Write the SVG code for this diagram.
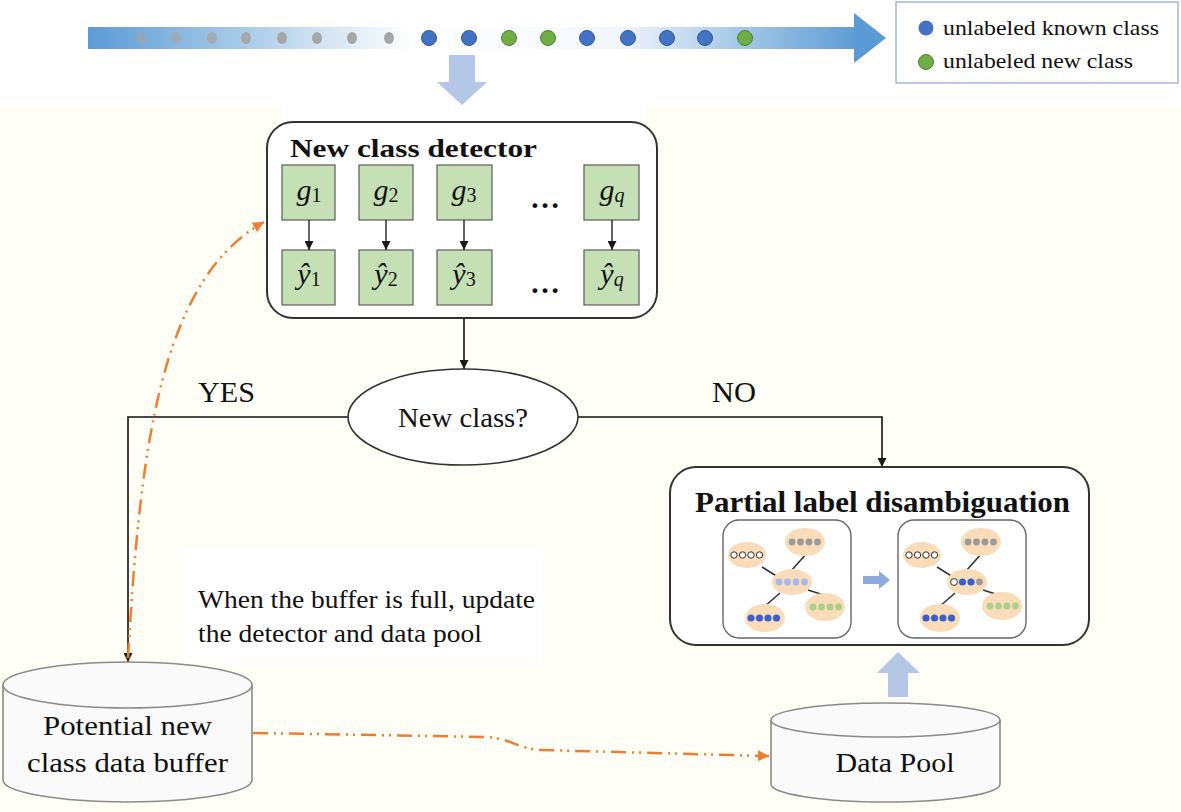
<svg xmlns="http://www.w3.org/2000/svg" width="1181" height="812" viewBox="0 0 1181 812" font-family="'Liberation Serif', 'Times New Roman', serif">
<defs>
  <linearGradient id="band" x1="88" y1="0" x2="860" y2="0" gradientUnits="userSpaceOnUse">
    <stop offset="0" stop-color="#5b9bd5"/>
    <stop offset="0.42" stop-color="#ffffff"/>
    <stop offset="0.68" stop-color="#f3f7fc"/>
    <stop offset="1" stop-color="#5b9bd5"/>
  </linearGradient>
  <marker id="ah" viewBox="0 0 10 10" refX="10" refY="5" markerWidth="9" markerHeight="9" markerUnits="userSpaceOnUse" orient="auto">
    <path d="M0,0 L10,5 L0,10 z" fill="#1a1a1a"/>
  </marker>
  <marker id="ao" viewBox="0 0 10 10" refX="10" refY="5" markerWidth="11" markerHeight="11" markerUnits="userSpaceOnUse" orient="auto">
    <path d="M0,0 L10,5 L0,10 z" fill="#ed7d31"/>
  </marker>
  <style>
    .t { font-family: "Liberation Serif", "Times New Roman", serif; fill: #111; }
    .b { font-weight: bold; }
    .box { fill: #ffffff; stroke: #333; stroke-width: 2; }
    .g { fill: #c5e0b4; stroke: #5a5a5a; stroke-width: 1.2; }
    .ln { fill: none; stroke: #111; stroke-width: 1.6; }
    .sl { fill: none; stroke: #111; stroke-width: 1.3; }
    .or { fill: none; stroke: #ed7d31; stroke-width: 2.5; stroke-dasharray: 15 6 2 5 2 6; }
    .cyl { fill: #fafafa; stroke: #8a8a8a; stroke-width: 1.6; }
    .pk { fill: #fbdcb8; }
    .ed { stroke: #333; stroke-width: 1.6; }
    .gd { fill: #a6a6a6; }
    .bd { fill: #4472c4; stroke: #2f5597; stroke-width: 1; }
    .nd { fill: #70ad47; stroke: #507e32; stroke-width: 1; }
    .hl { fill: #ffffff; stroke: #333; stroke-width: 1; }
    .lv { fill: #a9b8ec; }
    .dk { fill: #3a5fcd; }
    .lg { fill: #a9d18e; }
    .gy { fill: #9a9a9a; }
    .inner { fill: #ffffff; stroke: #666; stroke-width: 1.4; }
  </style>
</defs>

<!-- background -->
<rect x="0" y="0" width="1181" height="812" fill="#ffffff"/>
<rect x="0" y="105" width="1181" height="707" fill="#fefef6"/>
<rect x="283" y="100" width="362" height="22" fill="#ffffff"/>
<rect x="180" y="547" width="362" height="116" fill="#ffffff"/>

<!-- data stream -->
<g id="stream">
  <rect x="88" y="27" width="768" height="22" fill="url(#band)"/>
  <polygon points="854,13 886,38 854,63" fill="#5b9bd5"/>
  <g class="gd">
    <ellipse cx="141" cy="38" rx="5" ry="6" opacity="0.55"/>
    <ellipse cx="176" cy="38" rx="5" ry="6" opacity="0.7"/>
    <ellipse cx="212" cy="38" rx="5" ry="6" opacity="0.85"/>
    <ellipse cx="246" cy="38" rx="5" ry="6"/>
    <ellipse cx="282" cy="38" rx="5" ry="6"/>
    <ellipse cx="317" cy="38" rx="5" ry="6"/>
    <ellipse cx="352" cy="38" rx="5" ry="6"/>
    <ellipse cx="389" cy="38" rx="5" ry="6"/>
  </g>
  <circle class="bd" cx="429" cy="38" r="7.5"/>
  <circle class="bd" cx="469" cy="38" r="7.5"/>
  <circle class="nd" cx="509" cy="38" r="7.5"/>
  <circle class="nd" cx="548" cy="38" r="7.5"/>
  <circle class="bd" cx="587" cy="38" r="7.5"/>
  <circle class="bd" cx="628" cy="38" r="7.5"/>
  <circle class="bd" cx="667" cy="38" r="7.5"/>
  <circle class="bd" cx="705" cy="38" r="7.5"/>
  <circle class="nd" cx="745" cy="38" r="7.5"/>
  <polygon points="449,55 475,55 475,82 487,82 462,105 437,82 449,82" fill="#b4c7e7"/>
</g>

<!-- legend -->
<g id="legend">
  <rect x="896" y="2" width="282" height="81" fill="#ffffff" stroke="#a9bcdc" stroke-width="1.6"/>
  <circle cx="926" cy="28" r="7.5" fill="#4472c4"/>
  <circle cx="926" cy="62" r="7.5" fill="#70ad47" stroke="#507e32" stroke-width="1"/>
  <text class="t" x="943" y="35" font-size="21" textLength="216" lengthAdjust="spacingAndGlyphs">unlabeled known class</text>
  <text class="t" x="943" y="68" font-size="21" textLength="190" lengthAdjust="spacingAndGlyphs">unlabeled new class</text>
</g>

<!-- connectors -->
<g id="connectors">
  <line class="ln" x1="464" y1="318" x2="464" y2="369" marker-end="url(#ah)"/>
  <polyline class="ln" points="348,417 128,417 128,662" marker-end="url(#ah)"/>
  <polyline class="ln" points="578,417 882,417 882,467" marker-end="url(#ah)"/>
  <path class="or" d="M128,658 C140,450 160,280 264,222" marker-end="url(#ao)"/>
  <path class="or" d="M253,733 L488,737 C512,739 518,749 542,750 L769,756" marker-end="url(#ao)"/>
  <polygon points="888,697 908,697 908,673 920,673 898,652 877,673 888,673" fill="#b4c7e7"/>
</g>

<!-- New class detector -->
<g id="detector">
  <rect class="box" x="267" y="122" width="390" height="196" rx="26"/>
  <text class="t b" x="290" y="157" font-size="26" textLength="247" lengthAdjust="spacingAndGlyphs">New class detector</text>
  <rect class="g" x="282" y="165" width="53" height="55"/>
  <rect class="g" x="359" y="165" width="54" height="55"/>
  <rect class="g" x="437" y="165" width="55" height="55"/>
  <rect class="g" x="584" y="165" width="55" height="55"/>
  <rect class="g" x="282" y="250" width="53" height="55"/>
  <rect class="g" x="359" y="250" width="54" height="55"/>
  <rect class="g" x="437" y="250" width="55" height="55"/>
  <rect class="g" x="584" y="250" width="55" height="55"/>
  <line class="sl" x1="309" y1="220" x2="309" y2="250" marker-end="url(#ah)"/>
  <line class="sl" x1="386" y1="220" x2="386" y2="250" marker-end="url(#ah)"/>
  <line class="sl" x1="464" y1="220" x2="464" y2="250" marker-end="url(#ah)"/>
  <line class="sl" x1="612" y1="220" x2="612" y2="250" marker-end="url(#ah)"/>
  <g class="t" font-size="30" text-anchor="middle">
    <text x="309" y="200"><tspan font-style="italic">g</tspan><tspan font-size="20" dy="2">1</tspan></text>
    <text x="386" y="200"><tspan font-style="italic">g</tspan><tspan font-size="20" dy="2">2</tspan></text>
    <text x="464" y="200"><tspan font-style="italic">g</tspan><tspan font-size="20" dy="2">3</tspan></text>
    <text x="612" y="200"><tspan font-style="italic">g</tspan><tspan font-size="20" font-style="italic" dy="2">q</tspan></text>
    <text x="309" y="284"><tspan font-style="italic">ŷ</tspan><tspan font-size="20" dy="2">1</tspan></text>
    <text x="386" y="284"><tspan font-style="italic">ŷ</tspan><tspan font-size="20" dy="2">2</tspan></text>
    <text x="464" y="284"><tspan font-style="italic">ŷ</tspan><tspan font-size="20" dy="2">3</tspan></text>
    <text x="612" y="284"><tspan font-style="italic">ŷ</tspan><tspan font-size="20" font-style="italic" dy="2">q</tspan></text>
    <text x="545" y="208" class="b" font-size="30">…</text>
    <text x="545" y="293" class="b" font-size="30">…</text>
  </g>
</g>

<!-- decision -->
<g id="decision">
  <ellipse cx="463" cy="417" rx="115" ry="48" fill="#ffffff" stroke="#333" stroke-width="1.6"/>
  <text class="t" x="463" y="427" font-size="28" text-anchor="middle" textLength="130" lengthAdjust="spacingAndGlyphs">New class?</text>
</g>
<g id="label-yes"><text class="t" x="198" y="402" font-size="29" textLength="57" lengthAdjust="spacingAndGlyphs">YES</text></g>
<g id="label-no"><text class="t" x="712" y="402" font-size="29" textLength="44" lengthAdjust="spacingAndGlyphs">NO</text></g>

<!-- Partial label disambiguation -->
<g id="disambiguation">
  <rect class="box" x="670" y="467" width="419" height="178" rx="26" stroke-width="2.4"/>
  <text class="t b" x="695" y="512" font-size="29" textLength="375" lengthAdjust="spacingAndGlyphs">Partial label disambiguation</text>
  <g id="graph-before">
    <rect class="inner" x="723" y="520" width="128" height="118" rx="16"/>
    <line class="ed" x1="762" y1="567" x2="778" y2="577"/>
    <line class="ed" x1="807" y1="553" x2="791" y2="571"/>
    <line class="ed" x1="808" y1="590" x2="827" y2="596"/>
    <line class="ed" x1="780" y1="593" x2="764" y2="607" stroke-width="2.2"/>
    <ellipse class="pk" cx="747" cy="555" rx="19" ry="13"/>
    <ellipse class="pk" cx="805" cy="542" rx="20" ry="14"/>
    <ellipse class="pk" cx="792" cy="582" rx="20" ry="13"/>
    <ellipse class="pk" cx="765" cy="618" rx="20" ry="14"/>
    <ellipse class="pk" cx="825" cy="607" rx="20" ry="14"/>
    <circle class="hl" cx="734" cy="555" r="3.2"/><circle class="hl" cx="742.5" cy="555" r="3.2"/><circle class="hl" cx="751" cy="555" r="3.2"/><circle class="hl" cx="759.5" cy="555" r="3.2"/>
    <circle class="gy" cx="792" cy="542" r="3.4"/><circle class="gy" cx="800.5" cy="542" r="3.4"/><circle class="gy" cx="809" cy="542" r="3.4"/><circle class="gy" cx="817.5" cy="542" r="3.4"/>
    <circle class="lv" cx="779" cy="582" r="3.4"/><circle class="lv" cx="787.5" cy="582" r="3.4"/><circle class="lv" cx="796" cy="582" r="3.4"/><circle class="lv" cx="804.5" cy="582" r="3.4"/>
    <circle class="dk" cx="751" cy="618" r="3.6"/><circle class="dk" cx="759.5" cy="618" r="3.6"/><circle class="dk" cx="768" cy="618" r="3.6"/><circle class="dk" cx="776.5" cy="618" r="3.6"/>
    <circle class="lg" cx="813" cy="607" r="3.4"/><circle class="lg" cx="821.5" cy="607" r="3.4"/><circle class="lg" cx="830" cy="607" r="3.4"/><circle class="lg" cx="838.5" cy="607" r="3.4"/>
  </g>
  <polygon points="863,576 879,576 879,571 890,580 879,589 879,584 863,584" fill="#8eaadb"/>
  <g id="graph-after" transform="translate(175,0)">
    <rect class="inner" x="723" y="520" width="128" height="118" rx="16"/>
    <line class="ed" x1="762" y1="567" x2="778" y2="577"/>
    <line class="ed" x1="807" y1="553" x2="791" y2="571"/>
    <line class="ed" x1="808" y1="590" x2="827" y2="596"/>
    <line class="ed" x1="780" y1="593" x2="764" y2="607" stroke-width="2.2"/>
    <ellipse class="pk" cx="747" cy="555" rx="19" ry="13"/>
    <ellipse class="pk" cx="806" cy="542" rx="20" ry="14"/>
    <ellipse class="pk" cx="792" cy="582" rx="20" ry="13"/>
    <ellipse class="pk" cx="765" cy="618" rx="20" ry="14"/>
    <ellipse class="pk" cx="827" cy="606" rx="20" ry="14"/>
    <circle class="hl" cx="734" cy="555" r="3.2"/><circle class="hl" cx="742.5" cy="555" r="3.2"/><circle class="hl" cx="751" cy="555" r="3.2"/><circle class="hl" cx="759.5" cy="555" r="3.2"/>
    <circle class="gy" cx="793" cy="542" r="3.4"/><circle class="gy" cx="801.5" cy="542" r="3.4"/><circle class="gy" cx="810" cy="542" r="3.4"/><circle class="gy" cx="818.5" cy="542" r="3.4"/>
    <circle class="hl" cx="779" cy="582" r="3.4"/><circle class="dk" cx="787.5" cy="582" r="3.6"/><circle class="dk" cx="796" cy="582" r="3.6"/><circle class="gy" cx="804.5" cy="582" r="3.4"/>
    <circle class="dk" cx="751" cy="618" r="3.6"/><circle class="dk" cx="759.5" cy="618" r="3.6"/><circle class="dk" cx="768" cy="618" r="3.6"/><circle class="dk" cx="776.5" cy="618" r="3.6"/>
    <circle class="lg" cx="815" cy="606" r="3.4"/><circle class="lg" cx="823.5" cy="606" r="3.4"/><circle class="lg" cx="832" cy="606" r="3.4"/><circle class="lg" cx="840.5" cy="606" r="3.4"/>
  </g>
</g>

<!-- note -->
<g id="note">
  <text class="t" x="198" y="608" font-size="25" textLength="337" lengthAdjust="spacingAndGlyphs">When the buffer is full, update</text>
  <text class="t" x="198" y="642" font-size="25" textLength="284" lengthAdjust="spacingAndGlyphs">the detector and data pool</text>
</g>

<!-- buffer cylinder -->
<g id="buffer">
  <path class="cyl" d="M3,685 L3,780 A124.5,22 0 0 0 252,780 L252,685"/>
  <ellipse class="cyl" cx="127.5" cy="685" rx="124.5" ry="23"/>
  <text class="t" x="127.5" y="735" font-size="28" text-anchor="middle" textLength="169" lengthAdjust="spacingAndGlyphs">Potential new</text>
  <text class="t" x="127.5" y="772" font-size="28" text-anchor="middle" textLength="201" lengthAdjust="spacingAndGlyphs">class data buffer</text>
</g>

<!-- data pool cylinder -->
<g id="datapool">
  <path class="cyl" d="M771,720 L771,784 A114.5,18 0 0 0 1000,784 L1000,720"/>
  <ellipse class="cyl" cx="885.5" cy="720" rx="114.5" ry="17"/>
  <text class="t" x="895" y="772" font-size="28" text-anchor="middle" textLength="119" lengthAdjust="spacingAndGlyphs">Data Pool</text>
</g>
</svg>
